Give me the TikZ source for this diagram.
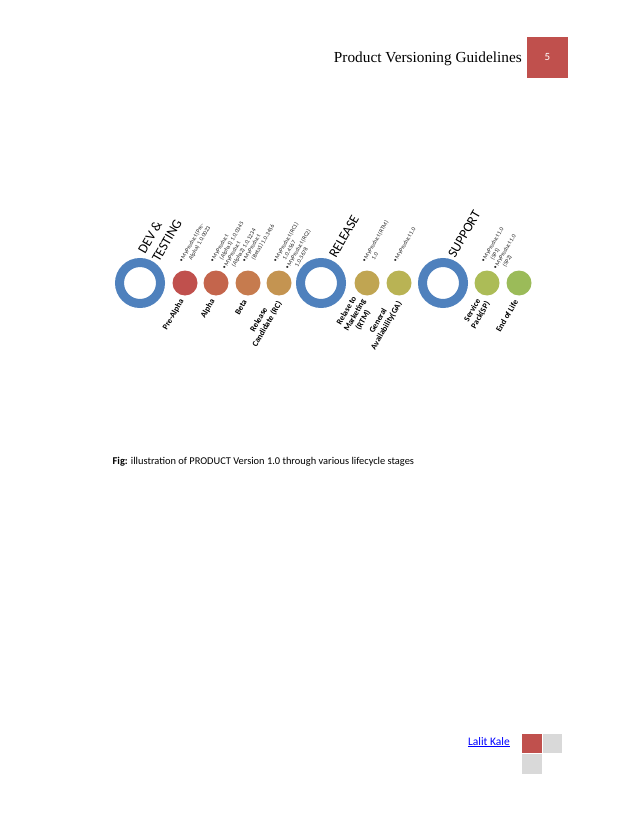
\documentclass[tikz,border=0pt]{standalone}
\usepackage{fontspec}
\setmainfont{Carlito}
\newfontfamily\hdrfont{Liberation Serif}
\definecolor{ringblue}{HTML}{4F81BD}
\definecolor{cA}{HTML}{C0504D}
\definecolor{cB}{HTML}{C4654C}
\definecolor{cC}{HTML}{C67B4E}
\definecolor{cD}{HTML}{C49451}
\definecolor{cE}{HTML}{C0A552}
\definecolor{cF}{HTML}{B9B354}
\definecolor{cG}{HTML}{ACBC57}
\definecolor{cH}{HTML}{9BBB59}
\definecolor{pagered}{HTML}{C0504D}
\definecolor{pagegray}{HTML}{D9D9D9}
\definecolor{linkblue}{HTML}{0000FF}
\newcommand\bl[5]{\path (#2) ++({6.06*#3+3.5*#4},{3.5*#3-6.06*#4}) node[btxt] (#1) {#5};}
\begin{document}
\begin{tikzpicture}[x=1pt,y=-1pt,
  ring/.style={draw=ringblue,line width=9pt},
  dot/.style={circle,inner sep=0pt,minimum size=25pt},
  btxt/.style={font=\fontsize{5.9}{7}\selectfont,text=black!85,rotate=60,anchor=base west,inner sep=0pt},
  ttl/.style={font=\fontsize{13.5}{16}\selectfont,rotate=60,anchor=base west,inner sep=0pt},
  lbl/.style={font=\bfseries\fontsize{8.3}{9.5}\selectfont,align=center,rotate=60,anchor=east,inner sep=0pt}]
\useasboundingbox (0,0) rectangle (638,826);
% header
\node[font=\hdrfont\fontsize{15.3}{18}\selectfont,anchor=base east,inner sep=0pt] (hdr) at (522,63) {Product Versioning Guidelines};
\node[fill=pagered,minimum width=41pt,minimum height=41pt,inner sep=0pt,text=white,font=\fontsize{11}{13}\selectfont] (pnum) at (547.5,57.5) {5};
% rings
\draw[ring] (140,283) circle (20.5);
\draw[ring] (321,283) circle (20.5);
\draw[ring] (443,283) circle (20.5);
\coordinate (r1) at (140,283);
\coordinate (r2) at (321,283);
\coordinate (r3) at (443,283);
% dots
\node[dot,fill=cA] (d1) at (185,283) {};
\node[dot,fill=cB] (d2) at (216,283) {};
\node[dot,fill=cC] (d3) at (248,283) {};
\node[dot,fill=cD] (d4) at (279,283) {};
\node[dot,fill=cE] (d5) at (367,283) {};
\node[dot,fill=cF] (d6) at (399,283) {};
\node[dot,fill=cG] (d7) at (487,283) {};
\node[dot,fill=cH] (d8) at (519,283) {};
% titles
\node[ttl] (t1a) at (145,255) {DEV \&};
\node[ttl] (t1b) at (159,263) {TESTING};
\node[ttl] (t2) at (336,259) {RELEASE};
\node[ttl] (t3) at (455,259) {SUPPORT};
% labels
\node[lbl] (l1) at (182,300) {Pre-Alpha};
\node[lbl] (l2) at (213,300) {Alpha};
\node[lbl] (l3) at (245,300) {Beta};
\node[lbl] (l4) at (276,300) {Release\\Candidate (RC)};
\node[lbl] (l5) at (364,300) {Relase to\\Marketing\\(RTM)};
\node[lbl] (l6) at (396,300) {General\\Availability(GA)};
\node[lbl] (l7) at (484,300) {Service\\Pack(SP)};
\node[lbl] (l8) at (516,300) {End of Life};
% bullet texts
\coordinate (p1) at (182,263);
\coordinate (p2) at (213,263);
\coordinate (p3) at (245,263);
\coordinate (p4) at (276,263);
\coordinate (p5) at (365,263);
\coordinate (p6) at (396,263);
\coordinate (p7) at (484,263);
\bl{b11}{p1}{0}{0}{• MyProduct (Pre-}
\bl{b12}{p1}{1}{1}{Alpha) 1.0.0023}
\bl{b21}{p2}{0}{0}{• MyProduct}
\bl{b22}{p2}{1}{1}{(Alpha1) 1.0.0345}
\bl{b23}{p2}{2}{0}{• MyProduct}
\bl{b24}{p2}{3}{1}{(Alpha2) 1.0.1234}
\bl{b31}{p3}{0}{0}{• MyProduct}
\bl{b32}{p3}{1}{1}{(Beta1) 1.0.3456}
\bl{b41}{p4}{0}{0}{• MyProduct (RC1)}
\bl{b42}{p4}{1}{1}{1.0.4567}
\bl{b43}{p4}{2}{0}{• MyProduct (RC2)}
\bl{b44}{p4}{3}{1}{1.0.5678}
\bl{b51}{p5}{0}{0}{• MyProduct (RTM)}
\bl{b52}{p5}{1}{1}{1.0}
\bl{b61}{p6}{0}{0}{• MyProduct 1.0}
\bl{b71}{p7}{0}{0}{• MyProduct 1.0}
\bl{b72}{p7}{1}{1}{(SP1)}
\bl{b73}{p7}{2}{0}{• MyProduct 1.0}
\bl{b74}{p7}{3}{1}{(SP2)}
% caption
\node[anchor=base west,inner sep=0pt,font=\fontsize{10.4}{12}\selectfont] (cap) at (112.5,464) {\textbf{Fig:} illustration of PRODUCT Version 1.0 through various lifecycle stages};
% footer
\node[anchor=base east,inner sep=0pt,text=linkblue,font=\fontsize{11.5}{13}\selectfont] (auth) at (510,745) {\underline{Lalit Kale}};
\node[fill=pagered,minimum width=19.5pt,minimum height=19.5pt,inner sep=0pt] (sq1) at (532,743.5) {};
\node[fill=pagegray,minimum width=19.5pt,minimum height=19.5pt,inner sep=0pt] (sq2) at (552.5,743.5) {};
\node[fill=pagegray,minimum width=19.5pt,minimum height=19.5pt,inner sep=0pt] (sq3) at (532,764) {};
\end{tikzpicture}
\end{document}
